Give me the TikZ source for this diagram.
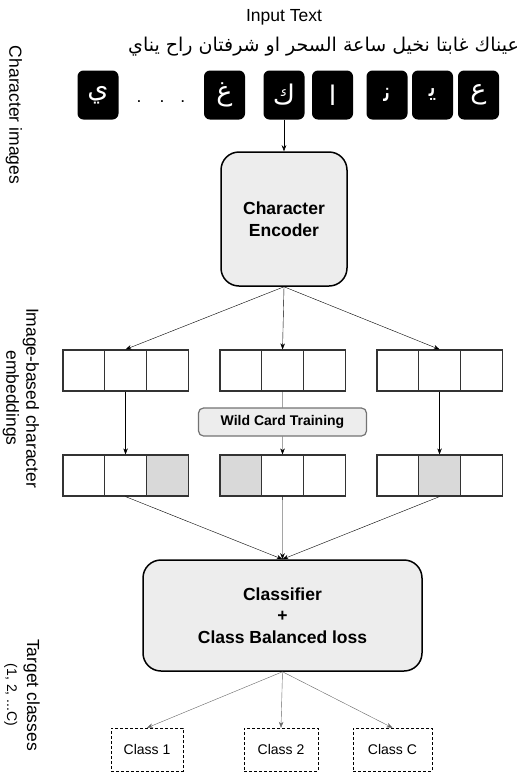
\documentclass[tikz,border=0pt]{standalone}
\usepackage{fontspec}
\setmainfont{Liberation Sans}
\newfontfamily\arabicfont[Script=Arabic]{DejaVu Sans}
\TeXXeTstate=1
\usetikzlibrary{arrows.meta}

\tikzset{
  tip/.style={-{Stealth[length=6pt,width=4.5pt]}},
  charimg/.style={fill=black, rounded corners=6pt, minimum width=41pt, minimum height=49pt,
    inner sep=0pt, text=white, font=\arabicfont\fontsize{27}{30}\selectfont},
  block/.style={draw, line width=1.5pt, fill=black!7, rounded corners=18pt, align=center,
    inner sep=0pt, font=\bfseries\fontsize{17.5}{21.5}\selectfont},
  cell/.style={draw=black!80, line width=1.2pt, minimum width=41.7pt, minimum height=41pt, inner sep=0pt},
  maskcell/.style={cell, fill=black!15},
  wildcard/.style={draw=black!55, line width=1.2pt, fill=black!7, rounded corners=5pt,
    minimum width=168pt, minimum height=28pt, inner sep=0pt, font=\bfseries\fontsize{14}{17}\selectfont},
  classbox/.style={draw, dash pattern=on 3pt off 2pt, minimum height=43pt, inner sep=0pt,
    font=\fontsize{14}{17}\selectfont},
  sidelabel/.style={rotate=-90, align=center, font=\fontsize{17.5}{20}\selectfont}
}

\begin{document}
\begin{tikzpicture}[x=1pt, y=-1pt]
\useasboundingbox (0,0) rectangle (521,777);

% input text
\node (title) at (284,17) {\fontsize{17.5}{21}\selectfont Input Text};
\node (poem) at (323.5,47) {\arabicfont\fontsize{19}{22}\selectfont\beginR عيناك غابتا نخيل ساعة السحر او شرفتان راح يناي\endR};

% character images
\node[charimg] (c1) at (478.5,95) {\beginR ع\endR};
\node[charimg] (c2) at (432.5,95) {\beginR ي^^^^200d\endR};
\node[charimg] (c3) at (387,95) {\beginR ن^^^^200d\endR};
\node[charimg] (c4) at (332.5,95) {\beginR ا\endR};
\node[charimg] (c5) at (284,95) {\beginR ك\endR};
\node[charimg] (c6) at (224.5,95) {\beginR غ\endR};
\node (dots) at (161,102) {\fontsize{17.5}{21}\selectfont .\hspace{18pt}.\hspace{16pt}.};
\node[charimg] (c7) at (98,95) {\beginR ي\endR};

% encoder
\node[block, minimum width=126pt, minimum height=134pt] (enc) at (284,219) {Character\\Encoder};
\draw[tip] (c5) -- (enc);

% embeddings
\foreach \g/\x in {1/63,2/220,3/377}
  \foreach \k/\n in {0/a,1/b,2/c} {
    \node[cell] (t\g\n) at ({\x+20.85+\k*41.7},370.5) {};
    \node[cell] (b\g\n) at ({\x+20.85+\k*41.7},475.5) {};
  }
\node[maskcell] (m1) at (b1c) {};
\node[maskcell] (m2) at (b2a) {};
\node[maskcell] (m3) at (b3b) {};

\draw[tip] (enc.south) -- (t1b.north);
\draw[tip] (enc.south) -- (t2b.north);
\draw[tip] (enc.south) -- (t3b.north);

\node[wildcard] (wct) at (282.5,422) {Wild Card Training};
\draw (t2b) -- (wct);
\draw[tip] (wct) -- (b2b);
\draw[tip] (t1b) -- (b1b);
\draw[tip] (t3b) -- (b3b);

% classifier
\node[block, minimum width=279pt, minimum height=111pt] (clf) at (282.5,615.5) {Classifier\\+\\Class Balanced loss};
\draw[tip] (b1b.south) -- (clf.north);
\draw[tip] (b2b.south) -- (clf.north);
\draw[tip] (b3b.south) -- (clf.north);

% target classes
\node[classbox, minimum width=72pt] (cls1) at (147,749.5) {Class 1};
\node[classbox, minimum width=74pt] (cls2) at (281,749.5) {Class 2};
\node[classbox, minimum width=79pt] (clsC) at (392.5,749.5) {Class C};
\draw[tip, black!60] (clf.south) -- (cls1.north);
\draw[tip, black!60] (clf.south) -- (cls2.north);
\draw[tip, black!60] (clf.south) -- (clsC.north);

% side labels
\node[sidelabel] (lchar) at (14,115) {Character images};
\node[sidelabel] (lemb) at (21,398) {Image-based character\\embeddings};
\node[sidelabel] (ltgt) at (22,695) {Target classes\\{\fontsize{14}{16}\selectfont (1, 2, ...C)}};
\end{tikzpicture}
\end{document}
